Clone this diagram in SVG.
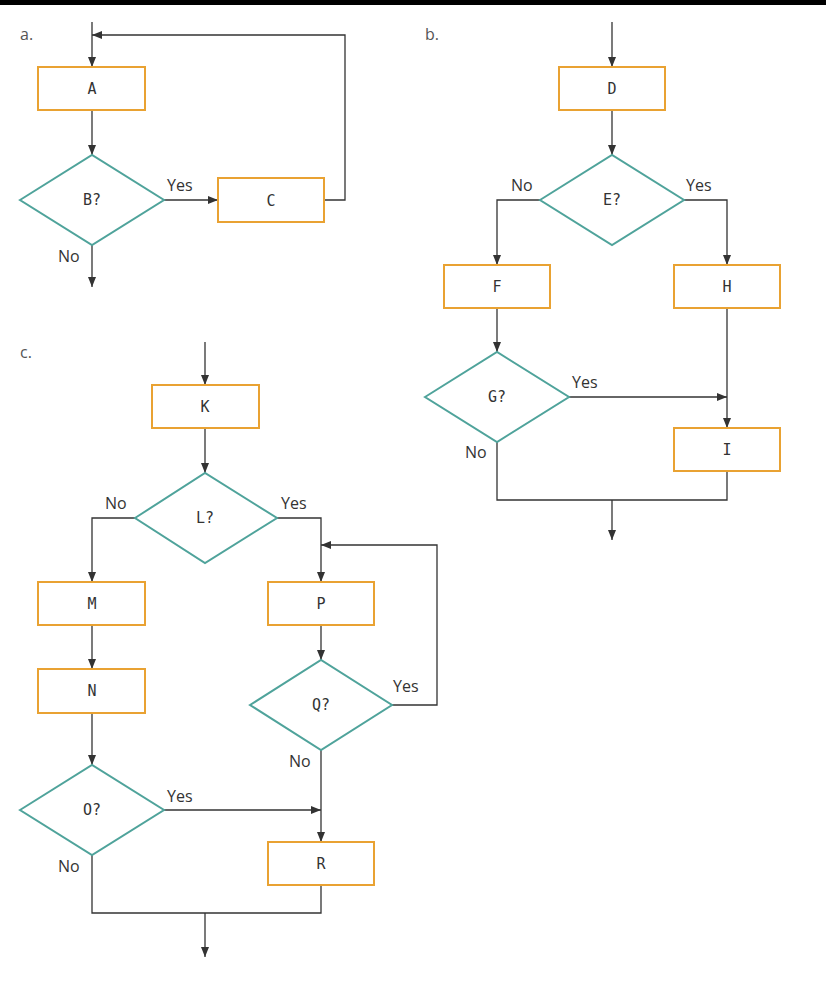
<svg xmlns="http://www.w3.org/2000/svg" width="826" height="981" viewBox="0 0 826 981">
<style>
.b{fill:#fff;stroke:#E9A232;stroke-width:2}
.d{fill:#fff;stroke:#4FA39B;stroke-width:2}
.t{font-family:"DejaVu Sans Mono",monospace;font-size:15px;fill:#333;text-anchor:middle}
.l{font-family:"Open Sans",sans-serif;font-size:16px;fill:#333}
.p{font-family:"Open Sans",sans-serif;font-size:16px;fill:#555}
#c path{fill:none;stroke:#333;stroke-width:1.3}
</style>
<defs><marker id="ar" markerWidth="10" markerHeight="8" refX="10" refY="4" orient="auto" markerUnits="userSpaceOnUse"><path d="M0,0L10,4L0,8z" fill="#333"/></marker></defs>
<rect width="826" height="981" fill="#fff"/>
<rect width="826" height="5" fill="#000"/>
<text class="p" x="20" y="40">a.</text>
<text class="p" x="425" y="40">b.</text>
<text class="p" x="20" y="358">c.</text>
<g id="c" marker-end="url(#ar)">
<path d="M92,22V67"/><path d="M92,110V155"/><path d="M164,200H218"/><path d="M324,200H345V35H92"/><path d="M92,245V287"/>
<path d="M612,22V67"/><path d="M612,110V155"/><path d="M540,200H497V265"/><path d="M684,200H727V265"/><path d="M497,308V352"/><path d="M569,397H727"/><path d="M727,308V428"/><path d="M497,442V500H727V471" marker-end="none"/><path d="M612,500V540"/>
<path d="M205,342V385"/><path d="M205,428V473"/><path d="M135,518H92V582"/><path d="M277,518H321V582"/><path d="M92,625V669"/><path d="M321,625V660"/><path d="M92,713V765"/><path d="M392,705H437V545H321"/><path d="M321,750V842"/><path d="M164,810H321"/><path d="M92,855V913H321V885" marker-end="none"/><path d="M205,913V957"/>
</g>
<g id="A"><rect class="b" x="38" y="67" width="107" height="43"/><text class="t" x="92" y="94">A</text></g>
<g id="B"><path class="d" d="M20,200L92,155L164,200L92,245z"/><text class="t" x="92" y="205">B?</text></g>
<g id="C"><rect class="b" x="218" y="178" width="106" height="44"/><text class="t" x="271" y="206">C</text></g>
<g id="D"><rect class="b" x="559" y="67" width="106" height="43"/><text class="t" x="612" y="94">D</text></g>
<g id="E"><path class="d" d="M540,200L612,155L684,200L612,245z"/><text class="t" x="612" y="205">E?</text></g>
<g id="F"><rect class="b" x="444" y="265" width="106" height="43"/><text class="t" x="497" y="292">F</text></g>
<g id="H"><rect class="b" x="674" y="265" width="106" height="43"/><text class="t" x="727" y="292">H</text></g>
<g id="G"><path class="d" d="M425,397L497,352L569,397L497,442z"/><text class="t" x="497" y="402">G?</text></g>
<g id="I"><rect class="b" x="674" y="428" width="106" height="43"/><text class="t" x="727" y="455">I</text></g>
<g id="K"><rect class="b" x="152" y="385" width="107" height="43"/><text class="t" x="205" y="412">K</text></g>
<g id="L"><path class="d" d="M135,518L205,473L277,518L205,563z"/><text class="t" x="205" y="523">L?</text></g>
<g id="M"><rect class="b" x="38" y="582" width="107" height="43"/><text class="t" x="92" y="609">M</text></g>
<g id="P"><rect class="b" x="268" y="582" width="106" height="43"/><text class="t" x="321" y="609">P</text></g>
<g id="N"><rect class="b" x="38" y="669" width="107" height="44"/><text class="t" x="92" y="696">N</text></g>
<g id="Q"><path class="d" d="M250,705L321,660L392,705L321,750z"/><text class="t" x="321" y="710">Q?</text></g>
<g id="O"><path class="d" d="M20,810L92,765L164,810L92,855z"/><text class="t" x="92" y="815">O?</text></g>
<g id="R"><rect class="b" x="268" y="842" width="106" height="43"/><text class="t" x="321" y="869">R</text></g>
<g>
<text class="l" x="167" y="191">Yes</text><text class="l" x="58" y="262">No</text>
<text class="l" x="511" y="191">No</text><text class="l" x="686" y="191">Yes</text>
<text class="l" x="572" y="388">Yes</text><text class="l" x="465" y="458">No</text>
<text class="l" x="105" y="509">No</text><text class="l" x="281" y="509">Yes</text>
<text class="l" x="393" y="692">Yes</text><text class="l" x="289" y="767">No</text>
<text class="l" x="167" y="802">Yes</text><text class="l" x="58" y="872">No</text>
</g>
</svg>
